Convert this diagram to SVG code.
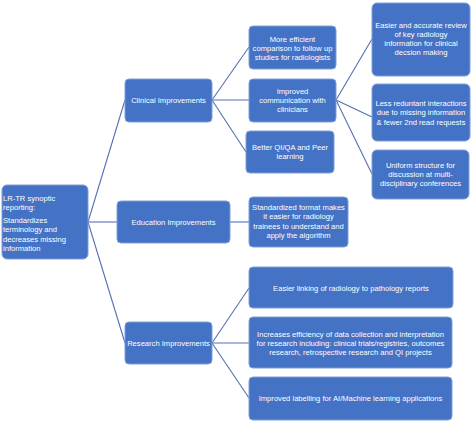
<svg xmlns="http://www.w3.org/2000/svg" width="474" height="421" viewBox="0 0 474 421">
<style>
.b{fill:#4472C4;stroke:#7f9fd8;stroke-width:1}
.t{font-family:"Liberation Sans",Arial,sans-serif;font-size:7.6px;fill:#ffffff;text-anchor:middle;dominant-baseline:central}
.l{text-anchor:start}
#connectors line{stroke:#5470b4;stroke-width:1.1;fill:none}
</style>
<rect width="474" height="421" fill="#ffffff"/>
<g id="connectors">
<line x1="88" y1="222" x2="125" y2="100"/>
<line x1="88" y1="222" x2="117" y2="222"/>
<line x1="88" y1="222" x2="125" y2="343"/>
<line x1="212" y1="100" x2="249" y2="47"/>
<line x1="212" y1="100" x2="249" y2="100"/>
<line x1="212" y1="100" x2="246" y2="152"/>
<line x1="336" y1="100" x2="372" y2="39"/>
<line x1="336" y1="100" x2="372" y2="117"/>
<line x1="336" y1="100" x2="372" y2="174"/>
<line x1="230" y1="222" x2="249" y2="222"/>
<line x1="212" y1="343" x2="249" y2="288"/>
<line x1="212" y1="343" x2="249" y2="343"/>
<line x1="212" y1="343" x2="249" y2="398"/>
</g>
<g id="root">
<rect class="b" x="2" y="185" width="86" height="74" rx="5"/>
<text class="t l" x="3" y="198">LR-TR synoptic</text>
<text class="t l" x="3" y="207">reporting:</text>
<text class="t l" x="3" y="220">Standardizes</text>
<text class="t l" x="3" y="229.5">terminology and</text>
<text class="t l" x="3" y="239">decreases missing</text>
<text class="t l" x="3" y="248.5">information</text>
</g>
<g id="clinical">
<rect class="b" x="125" y="79" width="87" height="43" rx="4"/>
<text class="t" x="168.5" y="100.5">Clinical Improvements</text>
</g>
<g id="education">
<rect class="b" x="117" y="201" width="113" height="42" rx="4"/>
<text class="t" x="173.5" y="222">Education Improvements</text>
</g>
<g id="research">
<rect class="b" x="125" y="322" width="87" height="42" rx="4"/>
<text class="t" x="168.5" y="343">Research Improvements</text>
</g>
<g id="efficient">
<rect class="b" x="249" y="26" width="87" height="43" rx="4"/>
<text class="t" x="292.5" y="39">More efficient</text>
<text class="t" x="292.5" y="48">comparison to follow up</text>
<text class="t" x="292.5" y="57">studies for radiologists</text>
</g>
<g id="communication">
<rect class="b" x="249" y="79" width="87" height="43" rx="4"/>
<text class="t" x="292.5" y="91">Improved</text>
<text class="t" x="292.5" y="100">communication with</text>
<text class="t" x="292.5" y="109">clinicians</text>
</g>
<g id="qiqa">
<rect class="b" x="246" y="131" width="88" height="42" rx="4"/>
<text class="t" x="290" y="147">Better QI/QA and Peer</text>
<text class="t" x="290" y="156">learning</text>
</g>
<g id="review">
<rect class="b" x="372" y="3" width="98" height="73" rx="5"/>
<text class="t" x="421" y="25">Easier and accurate review</text>
<text class="t" x="421" y="34">of key radiology</text>
<text class="t" x="421" y="43">information for clinical</text>
<text class="t" x="421" y="52">decsion making</text>
</g>
<g id="redundant">
<rect class="b" x="372" y="84" width="98" height="57" rx="5"/>
<text class="t" x="421" y="103.5">Less reduntant interactions</text>
<text class="t" x="421" y="112.5">due to missing information</text>
<text class="t" x="421" y="122">&amp; fewer 2nd read requests</text>
</g>
<g id="uniform">
<rect class="b" x="372" y="150" width="97" height="49" rx="5"/>
<text class="t" x="420.5" y="165">Uniform structure for</text>
<text class="t" x="420.5" y="174">discussion at multi-</text>
<text class="t" x="420.5" y="183">disciplinary conferences</text>
</g>
<g id="standardized">
<rect class="b" x="249" y="197" width="99" height="50" rx="4"/>
<text class="t" x="298.5" y="207.5">Standardized format makes</text>
<text class="t" x="298.5" y="216.5">it easier for radiology</text>
<text class="t" x="298.5" y="226">trainees to understand and</text>
<text class="t" x="298.5" y="235">apply the algorithm</text>
</g>
<g id="linking">
<rect class="b" x="249" y="267" width="204" height="41" rx="4"/>
<text class="t" x="351" y="288">Easier linking of radiology to pathology reports</text>
</g>
<g id="efficiency">
<rect class="b" x="249" y="317" width="203" height="51" rx="4"/>
<text class="t" x="350.5" y="334">Increases efficiency of data collection and interpretation</text>
<text class="t" x="350.5" y="343">for research including: clinical trials/registries, outcomes</text>
<text class="t" x="350.5" y="352.5">research, retrospective research and QI projects</text>
</g>
<g id="labelling">
<rect class="b" x="249" y="377" width="203" height="43" rx="4"/>
<text class="t" x="350.5" y="398">Improved labelling for AI/Machine learning applications</text>
</g>
</svg>
